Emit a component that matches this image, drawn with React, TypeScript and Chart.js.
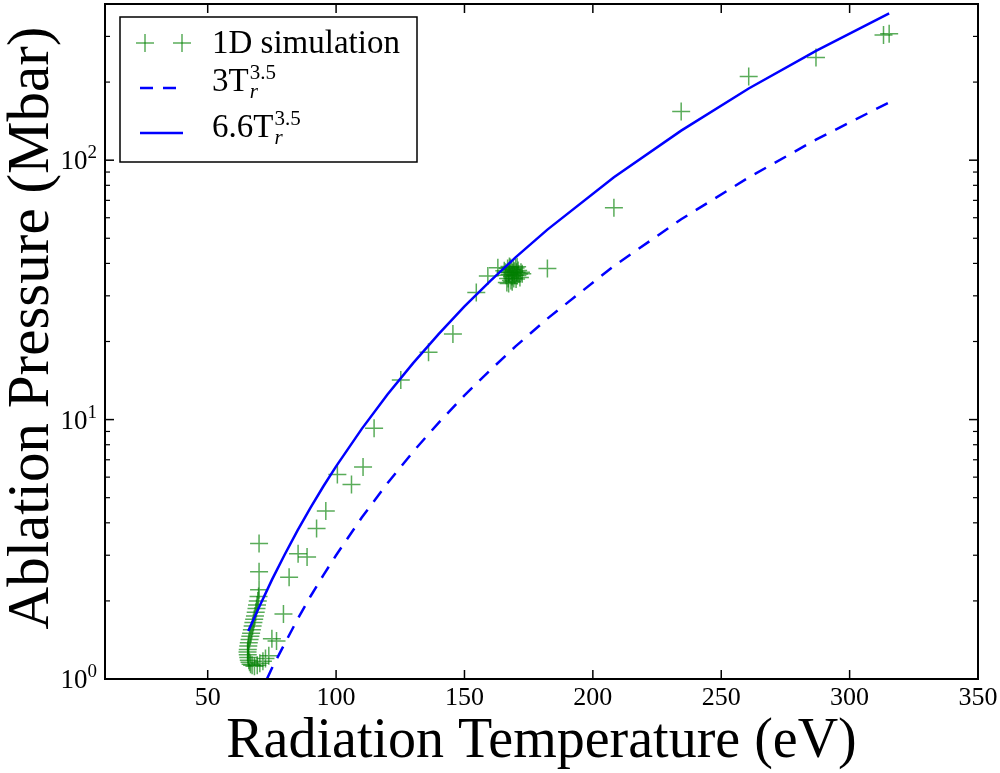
import { useEffect, useRef } from 'react';
import { Chart, registerables } from 'chart.js';

Chart.register(...registerables);

// ---- data ----
const SIM_T = [
  70.0, 70.0, 70.0, 69.8, 69.5, 69.2, 69.0, 68.7, 68.4, 68.1, 67.8, 67.5, 67.2, 66.9, 66.6, 66.3,
  66.0, 65.8, 65.6, 65.5, 65.6, 65.8, 66.0, 66.3, 66.7, 67.3, 68.2, 69.3, 70.3, 71.5, 72.5, 73.8,
  75.0, 76.8, 79.5, 81.7, 85.2, 88.7, 92.4, 96.0, 100.5, 106.0, 110.5, 114.8, 125.2, 136.0, 145.5,
  154.6, 159.1, 163.0,
  165.5, 166.0, 166.2, 166.5, 166.8, 167.0, 167.2, 167.3, 167.5, 167.6, 167.9, 168.1, 168.3, 168.5,
  168.6, 168.8, 169.0, 169.2, 169.4, 169.6, 169.9, 170.1, 170.3, 170.5, 170.6, 170.9, 171.2, 171.6,
  172.0, 172.5,
  182.3, 208.2, 234.4, 260.7, 286.9, 313.2, 315.4,
];
const SIM_P = [
  3.33, 2.59, 2.21, 2.08, 2.0, 1.93, 1.87, 1.81, 1.75, 1.7, 1.65, 1.6, 1.55, 1.5, 1.46, 1.42,
  1.38, 1.34, 1.3, 1.27, 1.24, 1.21, 1.18, 1.16, 1.14, 1.13, 1.12, 1.13, 1.15, 1.17, 1.2, 1.23,
  1.43, 1.4, 1.78, 2.47, 3.04, 2.95, 3.8, 4.44, 6.14, 5.62, 6.56, 9.26, 14.2, 18.2, 21.4,
  30.9, 35.8, 38.5,
  37.5, 37.0, 36.0, 33.8, 38.2, 35.0, 33.5, 37.0, 38.9, 36.3, 38.6, 34.4, 37.8, 35.6,
  34.0, 36.8, 38.0, 35.0, 37.3, 36.0, 38.4, 34.8, 37.0, 38.8, 35.9, 37.6, 36.4, 35.3,
  37.0, 36.5,
  38.2, 65.6, 154, 210, 249, 304, 307,
];
const LINE_T = [65.8, 70, 75, 80, 85, 90, 95, 100, 110, 120, 130, 140, 150, 160, 170, 182.3, 208.2, 234.4, 260.7, 286.9, 315.4];
const FIT_HIGH_P = [1.53, 1.89, 2.41, 3.02, 3.74, 4.57, 5.52, 6.6, 9.21, 12.5, 16.5, 21.4, 27.3, 34.2, 42.3, 54.0, 86.0, 130, 189, 264, 368];
const FIT_LOW_P = [0.69, 0.86, 1.1, 1.37, 1.7, 2.08, 2.51, 3.0, 4.19, 5.68, 7.52, 9.74, 12.4, 15.5, 19.2, 24.5, 39.1, 59.2, 85.8, 120, 167];

const X_TICKS = [50, 100, 150, 200, 250, 300, 350];
const Y_MAJOR = [1, 10, 100];
const Y_EXPONENTS = ['0', '1', '2'];
const Y_MINOR = [2, 3, 4, 5, 6, 7, 8, 9, 20, 30, 40, 50, 60, 70, 80, 90, 200, 300];
const X_MIN = 10;
const X_MAX = 350;
const Y_MIN = 1;
const Y_MAX = 400;

const X_TITLE = 'Radiation Temperature (eV)';
const Y_TITLE = 'Ablation Pressure (Mbar)';
const LEGEND_SIM = '1D simulation';
const LEGEND_LOW = ['3T', 'r', '3.5'];
const LEGEND_HIGH = ['6.6T', 'r', '3.5'];

const GREEN = 'rgba(0,128,0,0.65)';
const BLUE = '#0000ff';
const FONT = '"Liberation Serif", "DejaVu Serif", serif';
const DASH = [13, 10];

const decor = {
  id: 'decor',
  afterDraw(chart: any) {
    const { ctx, chartArea: a, scales } = chart;
    const xs = scales.x;
    const ys = scales.y;
    ctx.save();
    ctx.strokeStyle = '#000';
    ctx.fillStyle = '#000';
    const seg = (x1: number, y1: number, x2: number, y2: number) => {
      ctx.beginPath();
      ctx.moveTo(x1, y1);
      ctx.lineTo(x2, y2);
      ctx.stroke();
    };
    // ticks (inward, all four sides)
    ctx.lineWidth = 1.5;
    X_TICKS.forEach((v) => {
      const px = xs.getPixelForValue(v);
      seg(px, a.bottom, px, a.bottom - 9);
      seg(px, a.top, px, a.top + 9);
    });
    Y_MAJOR.forEach((v) => {
      const py = ys.getPixelForValue(v);
      seg(a.left, py, a.left + 9, py);
      seg(a.right, py, a.right - 9, py);
    });
    ctx.lineWidth = 1.2;
    Y_MINOR.forEach((v) => {
      const py = ys.getPixelForValue(v);
      seg(a.left, py, a.left + 5, py);
      seg(a.right, py, a.right - 5, py);
    });
    // frame
    ctx.lineWidth = 2;
    ctx.strokeRect(a.left, a.top, a.right - a.left, a.bottom - a.top);

    // x tick labels
    ctx.font = `26px ${FONT}`;
    ctx.textAlign = 'center';
    ctx.textBaseline = 'alphabetic';
    X_TICKS.forEach((v) => {
      ctx.fillText(String(v), xs.getPixelForValue(v), a.bottom + 26);
    });
    // y tick labels 10^n
    Y_MAJOR.forEach((v, i) => {
      const py = ys.getPixelForValue(v);
      const right = a.left - 8;
      ctx.font = `19px ${FONT}`;
      ctx.textAlign = 'right';
      const ew = ctx.measureText(Y_EXPONENTS[i]).width;
      ctx.fillText(Y_EXPONENTS[i], right, py - 2);
      ctx.font = `27px ${FONT}`;
      ctx.fillText('10', right - ew, py + 9);
    });

    // axis titles
    ctx.font = `56px ${FONT}`;
    ctx.textAlign = 'center';
    ctx.fillText(X_TITLE, (a.left + a.right) / 2, 757);
    ctx.save();
    ctx.translate(48, 328);
    ctx.rotate(-Math.PI / 2);
    ctx.font = `59px ${FONT}`;
    ctx.fillText(Y_TITLE, 0, 0);
    ctx.restore();

    // legend
    const lx = 120, ly = 17, lw = 297, lh = 145;
    ctx.fillStyle = '#fff';
    ctx.fillRect(lx, ly, lw, lh);
    ctx.lineWidth = 1.5;
    ctx.strokeStyle = '#000';
    ctx.strokeRect(lx, ly, lw, lh);
    // markers
    ctx.strokeStyle = GREEN;
    ctx.lineWidth = 1.5;
    [145, 182].forEach((cx) => {
      seg(cx - 9, 43, cx + 9, 43);
      seg(cx, 34, cx, 52);
    });
    ctx.strokeStyle = BLUE;
    ctx.lineWidth = 2.5;
    ctx.setLineDash(DASH);
    seg(140, 88, 178, 88);
    ctx.setLineDash([]);
    seg(140, 133, 183, 133);

    ctx.fillStyle = '#000';
    ctx.textAlign = 'left';
    ctx.font = `33px ${FONT}`;
    ctx.fillText(LEGEND_SIM, 212, 53);
    const formula = (parts: string[], base: number) => {
      ctx.font = `33px ${FONT}`;
      ctx.fillText(parts[0], 212, base);
      const w = ctx.measureText(parts[0]).width;
      ctx.font = `italic 21px ${FONT}`;
      ctx.fillText(parts[1], 212 + w + 1, base + 7);
      ctx.font = `21px ${FONT}`;
      ctx.fillText(parts[2], 212 + w + 1, base - 12);
    };
    formula(LEGEND_LOW, 91);
    formula(LEGEND_HIGH, 137);
    ctx.restore();
  },
};

export default function App() {
  const ref = useRef<HTMLCanvasElement | null>(null);
  useEffect(() => {
    if (!ref.current) return;
    const chart = new Chart(ref.current, {
      type: 'scatter',
      data: {
        datasets: [
          {
            label: LEGEND_SIM,
            data: SIM_T.map((t, i) => ({ x: t, y: SIM_P[i] })),
            pointStyle: 'cross',
            pointRadius: 9,
            pointBorderWidth: 1.5,
            borderColor: GREEN,
            backgroundColor: GREEN,
            showLine: false,
            order: 3,
          },
          {
            label: LEGEND_LOW.join(''),
            data: LINE_T.map((t, i) => ({ x: t, y: FIT_LOW_P[i] })),
            showLine: true,
            borderColor: BLUE,
            borderWidth: 2.5,
            borderDash: DASH,
            pointRadius: 0,
            fill: false,
            order: 2,
          },
          {
            label: LEGEND_HIGH.join(''),
            data: LINE_T.map((t, i) => ({ x: t, y: FIT_HIGH_P[i] })),
            showLine: true,
            borderColor: BLUE,
            borderWidth: 2.5,
            pointRadius: 0,
            fill: false,
            order: 1,
          },
        ],
      },
      options: {
        responsive: false,
        animation: false,
        devicePixelRatio: 1,
        events: [],
        layout: { autoPadding: false, padding: { left: 105, right: 22, top: 4, bottom: 94 } },
        scales: {
          x: { type: 'linear', min: X_MIN, max: X_MAX, display: false },
          y: { type: 'logarithmic', min: Y_MIN, max: Y_MAX, display: false },
        },
        plugins: { legend: { display: false }, tooltip: { enabled: false }, title: { display: false } },
      },
      plugins: [decor],
    } as any);
    return () => chart.destroy();
  }, []);
  return (
    <div style={{ position: 'fixed', left: 0, top: 0, width: 1000, height: 773, background: '#fff' }}>
      <canvas ref={ref} width={1000} height={773} style={{ display: 'block' }} />
    </div>
  );
}
